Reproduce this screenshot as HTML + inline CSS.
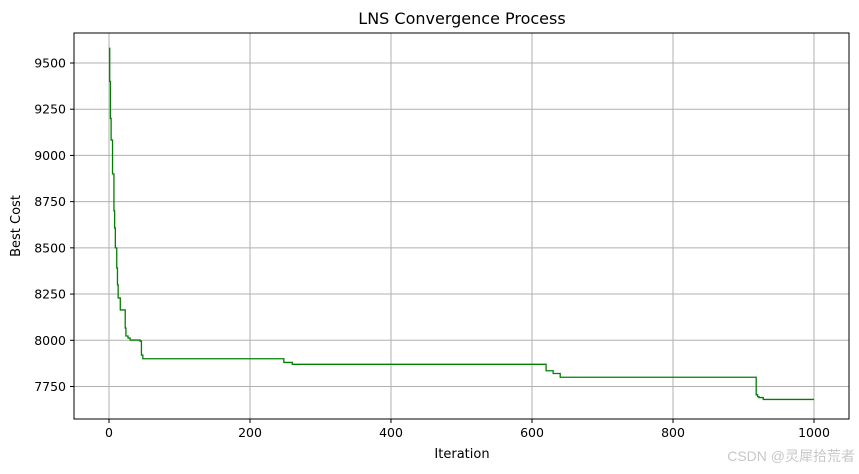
<!DOCTYPE html>
<html><head><meta charset="utf-8"><style>
body{margin:0;background:#fff;font-family:"DejaVu Sans",sans-serif}
</style></head><body>
<svg id="chart" width="859" height="470" xmlns="http://www.w3.org/2000/svg" style="font-family:'DejaVu Sans',sans-serif">
<text x="462" y="24" text-anchor="middle" font-size="16">LNS Convergence Process</text>
<g id="grid"></g>
<path id="line" fill="none" stroke="#008000" stroke-width="1.3"/>
<rect x="74" y="33" width="775" height="386" fill="none" stroke="#000" stroke-width="1"/>
<g id="ticks"></g>
<text x="462" y="458" text-anchor="middle" font-size="13">Iteration</text>
<text transform="translate(20,226) rotate(-90)" text-anchor="middle" font-size="13">Best Cost</text>
<text x="855" y="461" text-anchor="end" font-size="14" fill="#c8c8c8" font-family="'Liberation Sans','Noto Sans CJK SC',sans-serif">CSDN @灵犀拾荒者</text>
</svg>
<script>
const iterations=[0,1,2,3,5,7,8,9,11,12,13,16,23,24,27,30,35,44,46,48,248,260,620,630,640,918,920,922,928,1000];
const costs=[9580,9400,9200,9083,8900,8700,8607,8500,8391,8300,8229,8164,8066,8023,8012,8001,8001,7995,7920,7900,7880,7870,7835,7820,7800,7705,7695,7690,7680,7680];
const xTicks=[0,200,400,600,800,1000];
const yTicks=[7750,8000,8250,8500,8750,9000,9250,9500];
const NS="http://www.w3.org/2000/svg";
function xs(v){return 109+v*0.705;}
function ys(v){return 63+(9500-v)/5.41;}
const grid=document.getElementById('grid'),ticks=document.getElementById('ticks');
function mk(tag,attrs,parent){const e=document.createElementNS(NS,tag);for(const k in attrs)e.setAttribute(k,attrs[k]);parent.appendChild(e);return e;}
xTicks.forEach(t=>{const x=xs(t);
 const g=mk('line',{x1:x,x2:x,y1:33,y2:419,stroke:'#b0b0b0','stroke-width':1},grid);
 
 
 mk('line',{x1:x,x2:x,y1:419,y2:423,stroke:'#000'},ticks);
 const l=mk('text',{x:x,y:437,'text-anchor':'middle','font-size':12.5},ticks);l.textContent=t;
 
 });
yTicks.forEach(t=>{const y=ys(t);
 const g=mk('line',{x1:74,x2:849,y1:y,y2:y,stroke:'#b0b0b0','stroke-width':1},grid);
 
 
 mk('line',{x1:70,x2:74,y1:y,y2:y,stroke:'#000'},ticks);
 const l=mk('text',{x:66,y:y+4.5,'text-anchor':'end','font-size':12.5},ticks);l.textContent=t;
 
 });
let d='M'+xs(iterations[0])+','+ys(costs[0]);
for(let i=1;i<iterations.length;i++){d+=' L'+xs(iterations[i])+','+ys(costs[i-1])+' L'+xs(iterations[i])+','+ys(costs[i]);}
document.getElementById('line').setAttribute('d',d);
</script>
</body></html>
